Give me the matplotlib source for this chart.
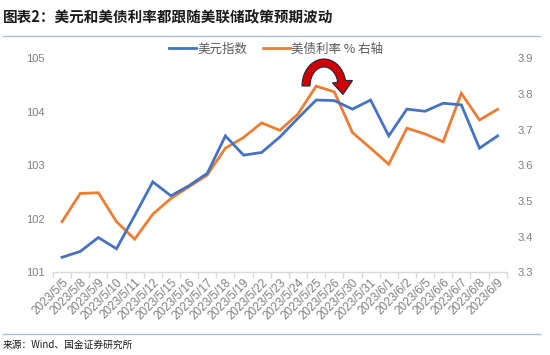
import numpy as np
import matplotlib
matplotlib.use("Agg")
import matplotlib.pyplot as plt
from matplotlib.path import Path
from matplotlib.patches import PathPatch
from matplotlib.lines import Line2D

plt.rcParams['font.family'] = ['Noto Sans CJK SC', 'DejaVu Sans']

dates = ["2023/5/5", "2023/5/8", "2023/5/9", "2023/5/10", "2023/5/11", "2023/5/12",
         "2023/5/15", "2023/5/16", "2023/5/17", "2023/5/18", "2023/5/19", "2023/5/22",
         "2023/5/23", "2023/5/24", "2023/5/25", "2023/5/26", "2023/5/30", "2023/5/31",
         "2023/6/1", "2023/6/2", "2023/6/5", "2023/6/6", "2023/6/7", "2023/6/8", "2023/6/9"]
dxy = [101.28, 101.39, 101.65, 101.44, 102.06, 102.69, 102.43, 102.62, 102.85, 103.55,
       103.19, 103.24, 103.53, 103.88, 104.22, 104.21, 104.05, 104.22, 103.55, 104.05,
       104.01, 104.16, 104.13, 103.32, 103.55]
ust = [3.442, 3.521, 3.523, 3.442, 3.393, 3.463, 3.507, 3.540, 3.573, 3.648,
       3.678, 3.719, 3.698, 3.744, 3.822, 3.806, 3.692, 3.648, 3.603, 3.704,
       3.688, 3.666, 3.802, 3.727, 3.757]
left_ticks = [101, 102, 103, 104, 105]
right_ticks = [3.3, 3.4, 3.5, 3.6, 3.7, 3.8, 3.9]

title = "图表2：美元和美债利率都跟随美联储政策预期波动"
source = "来源：Wind、国金证券研究所"
lab_dxy = "美元指数"
lab_ust = "美债利率 % 右轴"

W, H = 550, 355
fig = plt.figure(figsize=(W / 100, H / 100), dpi=100)
ax = fig.add_axes([53 / W, 1 - 272.3 / H, (506.7 - 53) / W, (272.3 - 58.3) / H])
ax2 = ax.twinx()

blue = '#4472c4'
orange = '#ed7d31'
x = np.arange(len(dates))
ax.plot(x, dxy, color=blue, lw=2.0, solid_joinstyle='miter', zorder=3)
ax2.plot(x, ust, color=orange, lw=2.0, solid_joinstyle='miter', zorder=2)
ax.set_zorder(ax2.get_zorder() + 1)
ax.patch.set_visible(False)

ax.set_xlim(-0.5, len(dates) - 0.5)
ax.set_ylim(101, 105)
ax2.set_ylim(3.3, 3.9)
ax.set_yticks(left_ticks)
ax.set_yticklabels([str(v) for v in left_ticks])
ax2.set_yticks(right_ticks)
ax2.set_yticklabels([f"{v:.1f}" for v in right_ticks])

for a in (ax, ax2):
    for s in a.spines.values():
        s.set_visible(False)
    a.tick_params(axis='y', length=0, colors='#7f7f7f', labelsize=8)
    for lbl in a.get_yticklabels():
        lbl.set_fontfamily(['Liberation Sans', 'DejaVu Sans'])
ax.tick_params(axis='y', pad=6)
ax2.tick_params(axis='y', pad=7.5)

ax.spines['bottom'].set_visible(True)
ax.spines['bottom'].set_color('#d9d9d9')
ax.spines['bottom'].set_linewidth(1.0)
ax.set_xticks(x)
ax.set_xticklabels(dates, rotation=45, ha='right', va='top', rotation_mode='anchor',
                   fontsize=8.5, color='#7f7f7f', family=['Liberation Sans', 'DejaVu Sans'])
ax.tick_params(axis='x', length=0, pad=3)
ax.set_xticks(np.arange(-0.5, len(dates), 1.0), minor=True)
ax.tick_params(axis='x', which='minor', length=4, color='#d9d9d9', width=1.0)

handles = [Line2D([], [], color=blue, lw=2.0), Line2D([], [], color=orange, lw=2.0)]
fig.legend(handles, [lab_dxy, lab_ust], loc='center', bbox_to_anchor=(276 / W, 1 - 49 / H),
           ncol=2, frameon=False, fontsize=9, handlelength=2.2, handletextpad=0.1,
           columnspacing=1.2, labelcolor='#595959')

fig.text(3 / W, 1 - 17 / H, title, fontsize=10.5, fontweight='bold', color='#1a1a1a',
         ha='left', va='center')
fig.add_artist(Line2D([3 / W, 540 / W], [1 - 36 / H, 1 - 36 / H], color='#a9bfd3', lw=1.0))
fig.add_artist(Line2D([3 / W, 540 / W], [1 - 334 / H, 1 - 334 / H], color='#a9bfd3', lw=1.0))
fig.text(3 / W, 1 - 345 / H, source, fontsize=7, color='#1a1a1a', ha='left', va='center')

# curved red arrow annotation (figure pixel coordinates)
cx, cy = 324.0, 86.0
t_out = np.linspace(np.pi, np.deg2rad(12), 40)
outer = [(cx + 22 * np.cos(t), cy - 27 * np.sin(t)) for t in t_out]
t_in = np.linspace(np.deg2rad(12), np.pi, 40)
inner = [(cx + 14 * np.cos(t), cy - 19 * np.sin(t)) for t in t_in]
head = [(352.5, 80.5), (343.0, 94.5), (332.5, 83.0)]
pts = outer + head + inner + [outer[0]]
verts = [(px / W, 1 - py / H) for px, py in pts]
codes = [Path.MOVETO] + [Path.LINETO] * (len(verts) - 2) + [Path.CLOSEPOLY]
arrow = PathPatch(Path(verts, codes), facecolor='#d00000', edgecolor='#1f2a4a', lw=0.8,
                  transform=fig.transFigure, zorder=10)
fig.add_artist(arrow)

fig.savefig('out.png', dpi=100)
